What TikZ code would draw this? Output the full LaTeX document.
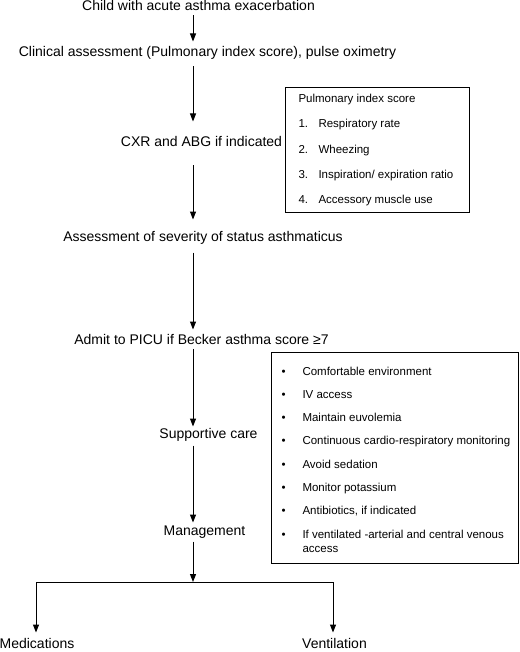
\documentclass[tikz,border=0pt]{standalone}
\usepackage{fontspec}
\setmainfont{Liberation Sans}
\usetikzlibrary{arrows.meta}

\begin{document}
\begin{tikzpicture}[%
    x=1pt, y=-1pt,
    >={Triangle[length=8pt,width=6pt]},
    line width=1pt,
    flow/.style={font=\fontsize{14}{16}\selectfont, inner sep=0pt,
                 text height=11pt, text depth=3.5pt},
    boxtext/.style={font=\fontsize{11.5}{14}\selectfont, inner sep=0pt,
                    text height=9pt, text depth=3pt, anchor=west},
    infobox/.style={draw, rectangle, inner sep=0pt}
    ]
    \useasboundingbox (0,0) rectangle (519,652);

    % main column
    \coordinate (spine) at (193,0);
    \node[flow] (child) at (198.5,7)   {Child with acute asthma exacerbation};
    \node[flow] (clin)  at (207.5,53)  {Clinical assessment (Pulmonary index score), pulse oximetry};
    \node[flow] (cxr)   at (201.5,143) {CXR and ABG if indicated};
    \node[flow] (sev)   at (203,238)   {Assessment of severity of status asthmaticus};
    \node[flow] (picu)  at (201.5,341) {Admit to PICU if Becker asthma score ≥7};
    \node[flow] (supp)  at (208.5,435) {Supportive care};
    \node[flow] (mgmt)  at (204.5,532) {Management};
    \coordinate (split) at (193,582);
    \node[flow] (med)   at (37,645)    {Medications};
    \node[flow] (vent)  at (334.5,645) {Ventilation};

    \draw[->, shorten <=0.75pt, shorten >=3.75pt]  (child.south -| spine) -- (clin.north -| spine);
    \draw[->, shorten <=5.75pt, shorten >=13.75pt] (clin.south -| spine)  -- (cxr.north -| spine);
    \draw[->, shorten <=14.75pt, shorten >=10.75pt] (cxr.south -| spine)  -- (sev.north -| spine);
    \draw[->, shorten <=6.75pt, shorten >=3.75pt]  (sev.south -| spine)   -- (picu.north -| spine);
    \draw[->, shorten >=0.75pt]                    (picu.south -| spine)  -- (supp.north -| spine);
    \draw[->, shorten <=2.75pt, shorten >=1.75pt]  (supp.south -| spine)  -- (mgmt.north -| spine);
    \draw[->, shorten <=1.75pt]                    (mgmt.south -| spine)  -- (split);
    \draw[->, shorten >=4.75pt] (split) -| ([xshift=-1pt]med.north);
    \draw[->, shorten >=4.75pt] (split) -| ([xshift=-1.5pt]vent.north);

    % pulmonary index score
    \node[infobox, minimum width=184pt, minimum height=124pt] (pis) at (377,150) {};
    \node[boxtext] (pistitle) at (298,100) {Pulmonary index score};
    \foreach \txt [count=\i] in {Respiratory rate, Wheezing,
                                 Inspiration/ expiration ratio, Accessory muscle use} {
        \node[boxtext] (pisnum\i) at (298,99.7+25.3*\i) {\i.};
        \node[boxtext] (pisitem\i) at (318,99.7+25.3*\i) {\txt};
    }

    % supportive care measures
    \node[infobox, minimum width=247pt, minimum height=211pt] (care) at (394.5,457.5) {};
    \foreach \txt [count=\i] in {Comfortable environment, IV access, Maintain euvolemia,
                                 Continuous cardio-respiratory monitoring, Avoid sedation,
                                 Monitor potassium, {Antibiotics, if indicated},
                                 If ventilated -arterial and central venous} {
        \node[boxtext] (carebul\i) at (281,348.7+23.3*\i) {•};
        \node[boxtext] (careitem\i) at (302,348.7+23.3*\i) {\txt};
    }
    \node[boxtext] (careitem8b) at (302,549) {access};

\end{tikzpicture}
\end{document}
